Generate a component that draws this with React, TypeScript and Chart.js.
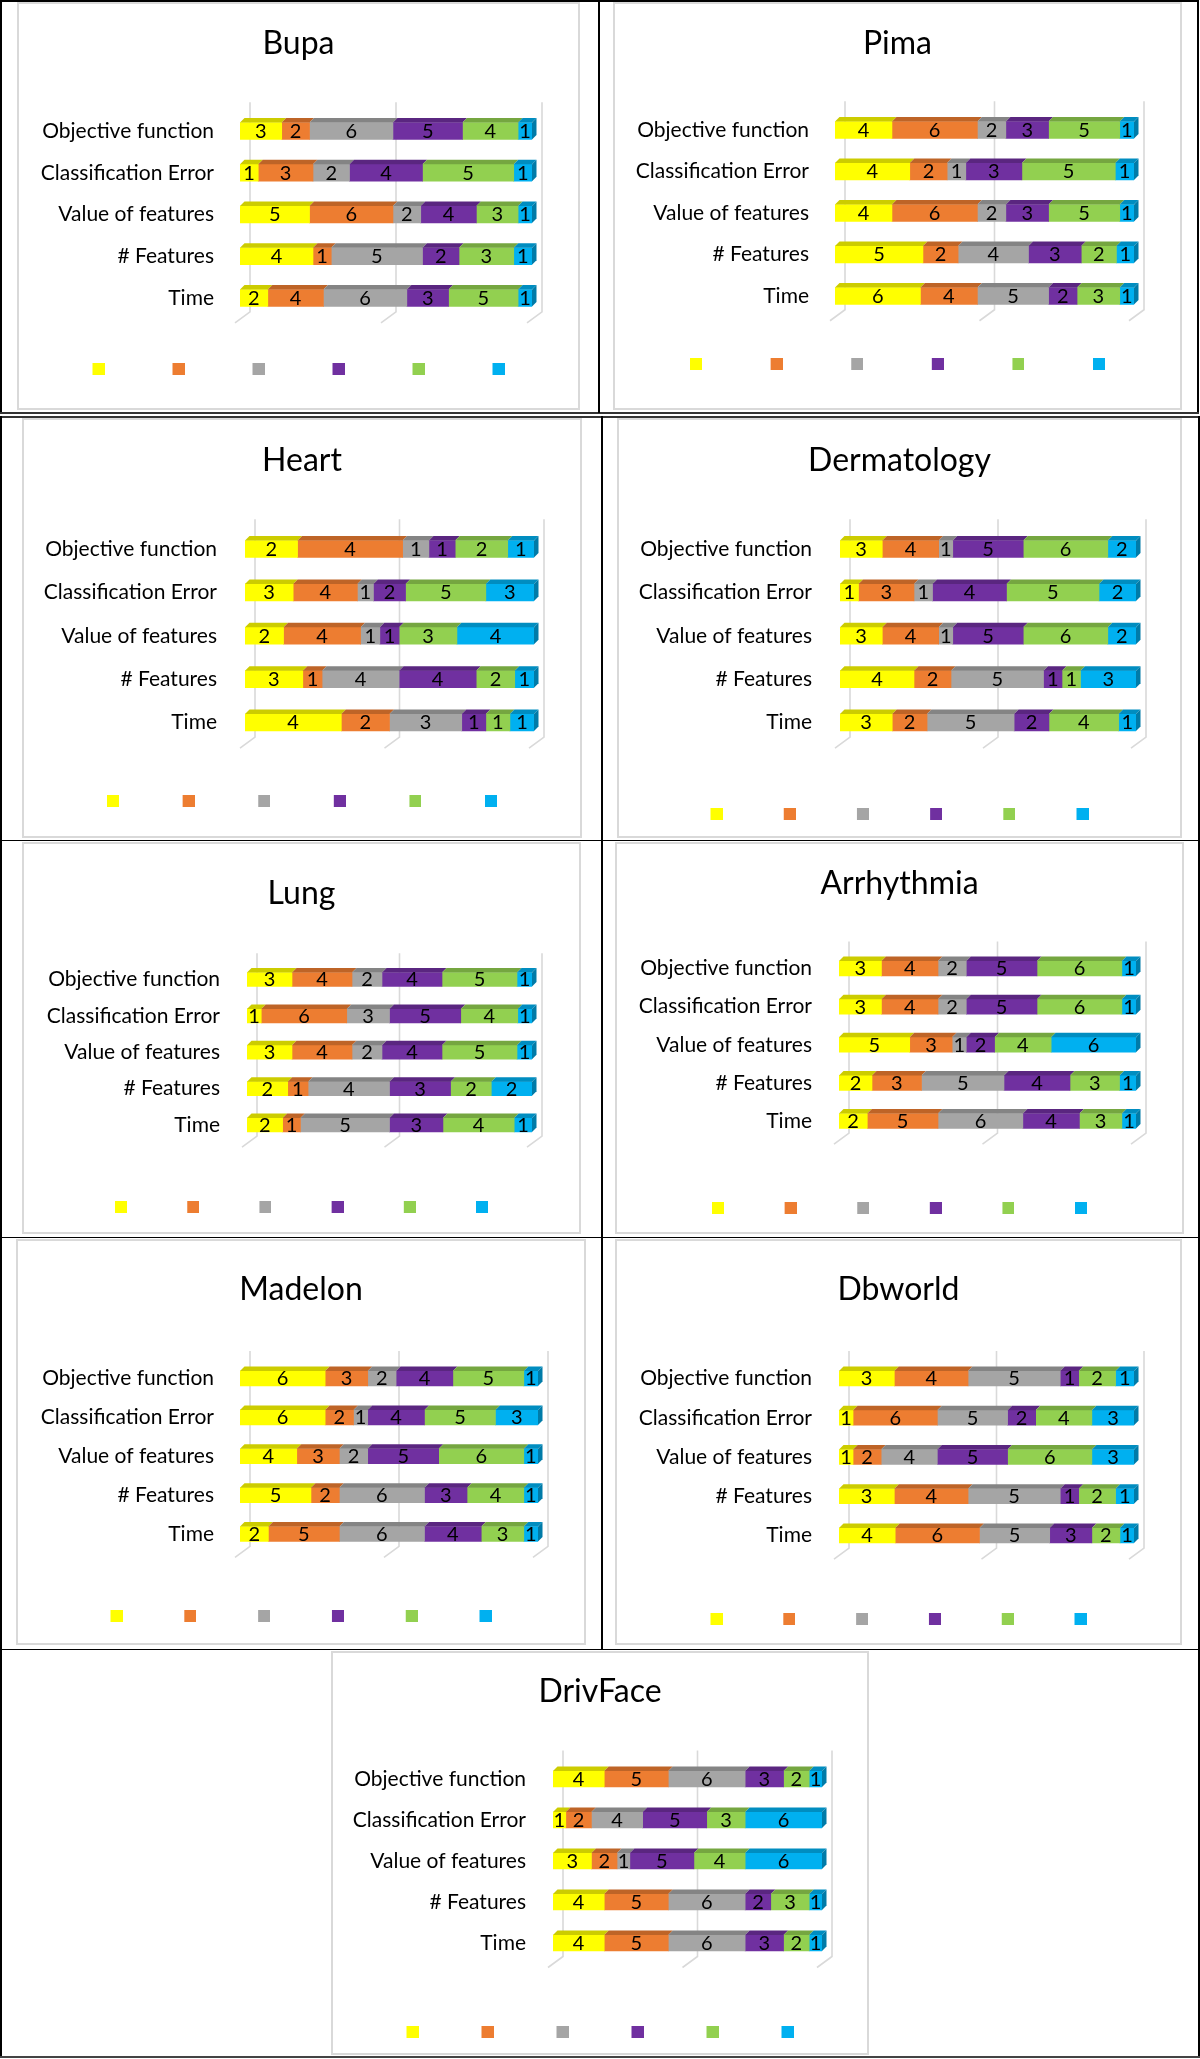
import React, { useEffect, useRef } from 'react';
import { Chart, registerables } from 'chart.js';

Chart.register(...registerables);
Chart.defaults.font.family = 'Lato';

// ---------- data ----------
const categories = ['Objective function', 'Classification Error', 'Value of features', '# Features', 'Time'];
const seriesColors = ['#FFFF00', '#ED7D31', '#A5A5A5', '#7030A0', '#92D050', '#00B0F0'];
const percentTicks = [0, 50, 100];

// rows follow `categories`; columns follow `seriesColors`
const bupa = [[3, 2, 6, 5, 4, 1], [1, 3, 2, 4, 5, 1], [5, 6, 2, 4, 3, 1], [4, 1, 5, 2, 3, 1], [2, 4, 6, 3, 5, 1]];
const pima = [[4, 6, 2, 3, 5, 1], [4, 2, 1, 3, 5, 1], [4, 6, 2, 3, 5, 1], [5, 2, 4, 3, 2, 1], [6, 4, 5, 2, 3, 1]];
const heart = [[2, 4, 1, 1, 2, 1], [3, 4, 1, 2, 5, 3], [2, 4, 1, 1, 3, 4], [3, 1, 4, 4, 2, 1], [4, 2, 3, 1, 1, 1]];
const dermatology = [[3, 4, 1, 5, 6, 2], [1, 3, 1, 4, 5, 2], [3, 4, 1, 5, 6, 2], [4, 2, 5, 1, 1, 3], [3, 2, 5, 2, 4, 1]];
const lung = [[3, 4, 2, 4, 5, 1], [1, 6, 3, 5, 4, 1], [3, 4, 2, 4, 5, 1], [2, 1, 4, 3, 2, 2], [2, 1, 5, 3, 4, 1]];
const arrhythmia = [[3, 4, 2, 5, 6, 1], [3, 4, 2, 5, 6, 1], [5, 3, 1, 2, 4, 6], [2, 3, 5, 4, 3, 1], [2, 5, 6, 4, 3, 1]];
const madelon = [[6, 3, 2, 4, 5, 1], [6, 2, 1, 4, 5, 3], [4, 3, 2, 5, 6, 1], [5, 2, 6, 3, 4, 1], [2, 5, 6, 4, 3, 1]];
const dbworld = [[3, 4, 5, 1, 2, 1], [1, 6, 5, 2, 4, 3], [1, 2, 4, 5, 6, 3], [3, 4, 5, 1, 2, 1], [4, 6, 5, 3, 2, 1]];
const drivface = [[4, 5, 6, 3, 2, 1], [1, 2, 4, 5, 3, 6], [3, 2, 1, 5, 4, 6], [4, 5, 6, 2, 3, 1], [4, 5, 6, 3, 2, 1]];

// ---------- layout (page pixels) ----------
const panels = [
  { title: 'Bupa', rows: bupa, box: [17, 2, 563, 408], tc: 44, xs: 240, xe: 532, lr: 214, r1: 131, r5: 298, lc: 369, sp: 80, bt: 17 },
  { title: 'Pima', rows: pima, box: [613, 2, 569, 408], tc: 44, xs: 835, xe: 1134, lr: 809, r1: 130, r5: 296, lc: 364, sp: 80.6, bt: 17 },
  { title: 'Heart', rows: heart, box: [22, 418, 560, 420], tc: 461, xs: 245, xe: 534, lr: 217, r1: 549, r5: 722.5, lc: 801, sp: 75.6, bt: 17 },
  { title: 'Dermatology', rows: dermatology, box: [617, 418, 565, 420], tc: 461, xs: 840, xe: 1136, lr: 812, r1: 549, r5: 722.5, lc: 814, sp: 73.2, bt: 17 },
  { title: 'Lung', rows: lung, box: [22, 842, 559, 392], tc: 894, xs: 247, xe: 532, lr: 220, r1: 979.5, r5: 1125, lc: 1207, sp: 72.2, bt: 14 },
  { title: 'Arrhythmia', rows: arrhythmia, box: [615, 842, 569, 392], tc: 884, xs: 839, xe: 1136, lr: 812, r1: 968.5, r5: 1121, lc: 1208, sp: 72.6, bt: 15 },
  { title: 'Madelon', rows: madelon, box: [16, 1239, 570, 406], tc: 1290, xs: 240, xe: 538, lr: 214, r1: 1378.5, r5: 1534, lc: 1616, sp: 73.8, bt: 15 },
  { title: 'Dbworld', rows: dbworld, box: [615, 1239, 567, 406], tc: 1290, xs: 839, xe: 1134, lr: 812, r1: 1378.5, r5: 1535.5, lc: 1619, sp: 72.8, bt: 15 },
  { title: 'DrivFace', rows: drivface, box: [331, 1651, 538, 404], tc: 1692, xs: 553, xe: 822, lr: 526, r1: 1779, r5: 1943, lc: 2032, sp: 75, bt: 16 },
];

const BW = 2; // panel border width
const TITLE_SIZE = 32;
const LABEL_SIZE = 21;
const VALUE_SIZE = 20;
const DEPTH = 4.5;
const GRID_SHIFT = 10;

function shade(hex: string, f: number) {
  const n = parseInt(hex.slice(1), 16);
  const r = Math.round(((n >> 16) & 255) * f);
  const g = Math.round(((n >> 8) & 255) * f);
  const b = Math.round((n & 255) * f);
  return `rgb(${r},${g},${b})`;
}

const backGrid = {
  id: 'backGrid',
  beforeDatasetsDraw(chart: any) {
    const ctx = chart.ctx;
    const xs = chart.scales.x;
    const { top, bottom } = chart.chartArea;
    ctx.save();
    ctx.strokeStyle = '#d9d9d9';
    ctx.lineWidth = 1.6;
    percentTicks.forEach((v) => {
      const px = xs.getPixelForValue(v) + GRID_SHIFT;
      ctx.beginPath();
      ctx.moveTo(px, top - 8);
      ctx.lineTo(px, bottom - 7);
      ctx.lineTo(px - 15, bottom + 4);
      ctx.stroke();
    });
    ctx.restore();
  },
};

const bar3d = {
  id: 'bar3d',
  afterDatasetsDraw(chart: any) {
    const ctx = chart.ctx;
    const sets = chart.data.datasets;
    const n = sets.length;
    ctx.save();
    sets.forEach((ds: any, di: number) => {
      const meta = chart.getDatasetMeta(di);
      meta.data.forEach((el: any) => {
        const { x, y, base, height } = el.getProps(['x', 'y', 'base', 'height'], true);
        const top = y - height / 2;
        const bottom = y + height / 2;
        const left = Math.min(x, base);
        const right = Math.max(x, base);
        ctx.fillStyle = shade(ds.backgroundColor, 0.8);
        ctx.beginPath();
        ctx.moveTo(left, top);
        ctx.lineTo(left + DEPTH, top - DEPTH);
        ctx.lineTo(right + DEPTH, top - DEPTH);
        ctx.lineTo(right, top);
        ctx.closePath();
        ctx.fill();
        if (di === n - 1) {
          ctx.fillStyle = shade(ds.backgroundColor, 0.7);
          ctx.beginPath();
          ctx.moveTo(right, top);
          ctx.lineTo(right + DEPTH, top - DEPTH);
          ctx.lineTo(right + DEPTH, bottom - DEPTH);
          ctx.lineTo(right, bottom);
          ctx.closePath();
          ctx.fill();
        }
      });
    });
    ctx.fillStyle = '#000';
    ctx.font = `${VALUE_SIZE}px Lato`;
    ctx.textAlign = 'center';
    ctx.textBaseline = 'middle';
    sets.forEach((ds: any, di: number) => {
      const meta = chart.getDatasetMeta(di);
      meta.data.forEach((el: any, i: number) => {
        const { x, y, base } = el.getProps(['x', 'y', 'base'], true);
        ctx.fillText(String(ds.raw[i]), (x + base) / 2, y + 0.5);
      });
    });
    ctx.restore();
  },
};

function Panel({ cfg }: { cfg: any }) {
  const ref = useRef<HTMLCanvasElement>(null);
  const [L, T, W, H] = cfg.box;
  const Wc = W - 2 * BW;
  const Hc = H - 2 * BW;

  useEffect(() => {
    const canvas = ref.current!;
    const ox = L + BW;
    const oy = T + BW;
    const s = (cfg.r5 - cfg.r1) / 4;
    const ct = cfg.r1 - s / 2 - oy;
    const cb = cfg.r5 + s / 2 - oy;
    const titleLH = TITLE_SIZE * 1.2;
    const tPadTop = cfg.tc - oy - titleLH / 2;
    const tPadBottom = ct - tPadTop - titleLH;
    const LP = 4;
    const legendTop = cfg.lc - oy - LP - 6;
    const legendH = 12 + LP + 10;
    const padB = Hc - legendTop - legendH;
    const hx = legendTop - cb;
    const yw = cfg.xs - ox;
    const y2w = Wc - (cfg.xe - ox);
    const swW = cfg.sp - LP - 6;

    const swatches = seriesColors.map((c) => {
      const cv = document.createElement('canvas');
      cv.width = 18;
      cv.height = 12;
      const g = cv.getContext('2d')!;
      g.fillStyle = c;
      g.fillRect(6, 0, 12, 12);
      return cv;
    });

    const rows: number[][] = cfg.rows;
    const datasets = seriesColors.map((color, j) => ({
      label: '',
      data: rows.map((r) => (r[j] / r.reduce((a, b) => a + b, 0)) * 100),
      raw: rows.map((r) => r[j]),
      backgroundColor: color,
      borderWidth: 0,
      barThickness: cfg.bt,
    }));

    const chart = new Chart(canvas, {
      type: 'bar',
      data: { labels: categories, datasets: datasets as any },
      options: {
        indexAxis: 'y',
        responsive: false,
        animation: false,
        events: [],
        layout: { padding: { left: 0, right: 0, top: 0, bottom: padB } },
        scales: {
          x: {
            type: 'linear',
            min: 0,
            max: 100,
            stacked: true,
            grid: { display: false, drawTicks: false },
            border: { display: false },
            ticks: { display: false, stepSize: 50 },
            afterFit: (sc: any) => { sc.height = hx; },
          },
          y: {
            type: 'category',
            stacked: true,
            grid: { display: false, drawTicks: false },
            border: { display: false },
            ticks: { padding: cfg.xs - cfg.lr, color: '#000', font: { family: 'Lato', size: LABEL_SIZE }, autoSkip: false },
            afterFit: (sc: any) => { sc.width = yw; },
          },
          y2: {
            type: 'linear',
            axis: 'y',
            position: 'right',
            grid: { display: false, drawTicks: false },
            border: { display: false },
            ticks: { display: false },
            afterFit: (sc: any) => { sc.width = y2w; },
          },
        } as any,
        plugins: {
          title: {
            display: true,
            text: cfg.title,
            color: '#000',
            font: { family: 'Lato', size: TITLE_SIZE, weight: 'normal' as any, lineHeight: 1.2 },
            padding: { top: tPadTop, bottom: tPadBottom },
          },
          legend: {
            display: true,
            position: 'bottom',
            labels: {
              usePointStyle: true,
              pointStyleWidth: swW,
              boxHeight: 12,
              padding: LP,
              font: { family: 'Lato', size: 12 },
              generateLabels: (ch: any) =>
                ch.data.datasets.map((ds: any, i: number) => ({
                  text: '',
                  fillStyle: ds.backgroundColor,
                  strokeStyle: ds.backgroundColor,
                  lineWidth: 0,
                  hidden: false,
                  datasetIndex: i,
                  pointStyle: swatches[i],
                })),
            },
          },
          tooltip: { enabled: false },
        },
      },
      plugins: [backGrid, bar3d],
    });
    return () => chart.destroy();
  }, []);

  return (
    <div
      style={{
        position: 'absolute',
        left: L,
        top: T,
        width: W,
        height: H,
        boxSizing: 'border-box',
        border: `${BW}px solid #d9d9d9`,
        background: '#fff',
      }}
    >
      <canvas ref={ref} width={Wc} height={Hc} style={{ display: 'block', width: Wc, height: Hc }} />
    </div>
  );
}

function Line({ l, t, w, h, c = '#000' }: { l: number; t: number; w: number; h: number; c?: string }) {
  return <div style={{ position: 'absolute', left: l, top: t, width: w, height: h, background: c }} />;
}

export default function App() {
  return (
    <div style={{ position: 'absolute', left: 0, top: 0, width: 1200, height: 2059, background: '#fff', overflow: 'hidden' }}>
      {/* upper table */}
      <Line l={0} t={0} w={1199} h={2} />
      <Line l={0} t={0} w={2} h={414} />
      <Line l={1197} t={0} w={2} h={414} />
      <Line l={0} t={412} w={1199} h={2} c="#333" />
      <Line l={598} t={0} w={1.5} h={413} />
      {/* main table */}
      <Line l={0} t={416} w={1200} h={2} c="#333" />
      <Line l={0} t={416} w={2} h={1642} />
      <Line l={1198} t={416} w={2} h={1642} />
      <Line l={0} t={2056} w={1200} h={2} c="#444" />
      <Line l={0} t={839.5} w={1200} h={1.5} />
      <Line l={0} t={1236.5} w={1200} h={1.5} />
      <Line l={0} t={1648.5} w={1200} h={1.5} />
      <Line l={601} t={416} w={1.5} h={1233} />
      {panels.map((p) => (
        <Panel key={p.title} cfg={p} />
      ))}
    </div>
  );
}
